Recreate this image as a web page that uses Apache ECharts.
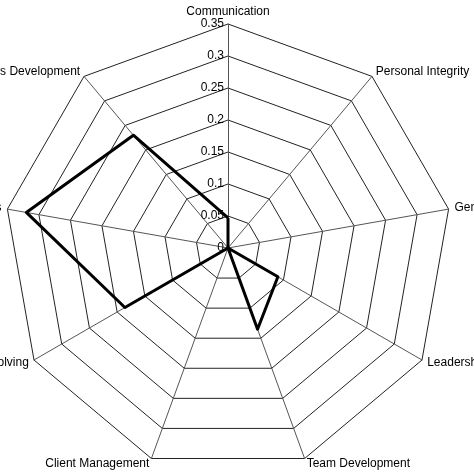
<!DOCTYPE html><html><head><meta charset="utf-8">
<script src="https://cdn.jsdelivr.net/npm/echarts@6/dist/echarts.min.js"></script>
<style>html,body{margin:0;padding:0;background:#fff}#c{width:474px;height:474px}</style></head><body><div id="c"></div>
<script>
// listed counterclockwise from top (ECharts radar order)
var categories = ["Communication","Business Development","Technical Skills","Problem Solving","Client Management","Team Development","Leadership","General Management","Personal Integrity"];
var values = [0.047, 0.23, 0.32, 0.186, 0, 0.135, 0.09, 0, 0];
var tickLabels = [0,0.05,0.1,0.15,0.2,0.25,0.3,0.35];
var maxVal = 0.35;
var chart = echarts.init(document.getElementById('c'));
chart.setOption({
  animation:false,
  radar:{
    center:[228,248], radius:224, startAngle:90, splitNumber:7, shape:'polygon',
    indicator: categories.map(function(n){return {name:n,min:0,max:maxVal};}),
    axisName:{color:'#000',fontFamily:'Liberation Sans',fontSize:12},
    nameGap:6,
    splitArea:{show:false},
    splitLine:{lineStyle:{color:'#222',width:1}},
    axisLine:{lineStyle:{color:'#555',width:1}},
    axisLabel:{show:false}
  },
  polar:{center:[228,248],radius:224},
  angleAxis:{startAngle:90,show:false,min:0,max:360},
  radiusAxis:{min:0,max:maxVal,interval:0.05,axisLine:{show:false},axisTick:{show:false},splitLine:{show:false},
    axisLabel:{color:'#000',fontFamily:'Liberation Sans',fontSize:12,margin:4,formatter:function(v){return String(+v.toFixed(2));}}},
  series:[{type:'radar',symbol:'none',data:[{value:values}],lineStyle:{color:'#000',width:3},areaStyle:{opacity:0}}]
});
</script></body></html>
